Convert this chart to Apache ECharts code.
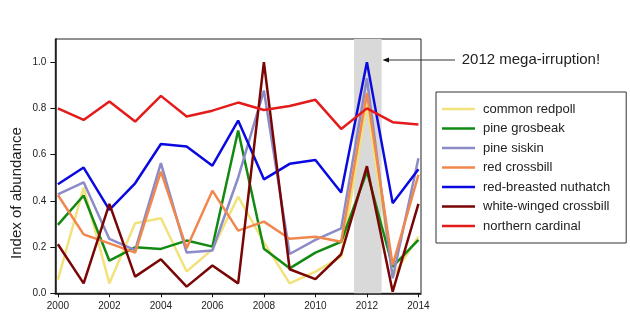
<!DOCTYPE html>
<html>
<head>
<meta charset="utf-8">
<script src="https://cdn.jsdelivr.net/npm/echarts@6/dist/echarts.min.js"></script>
<style>html,body{margin:0;padding:0;background:#fff;}#c{width:630px;height:326px;}</style>
</head>
<body>
<div id="c"></div>
<script>
const years = [2000,2001,2002,2003,2004,2005,2006,2007,2008,2009,2010,2011,2012,2013,2014];
const xTicks = [2000,2002,2004,2006,2008,2010,2012,2014];
const yTicks = [0,0.2,0.4,0.6,0.8,1.0];
const seriesNames = ['common redpoll','pine grosbeak','pine siskin','red crossbill','red-breasted nuthatch','white-winged crossbill','northern cardinal'];
const commonRedpoll = [0.058,0.457,0.043,0.303,0.325,0.094,0.19,0.418,0.22,0.043,0.094,0.158,0.82,0.072,0.245];
const pineGrosbeak  = [0.296,0.423,0.141,0.199,0.192,0.228,0.202,0.704,0.193,0.108,0.176,0.223,0.527,0.115,0.231];
const pineSiskin    = [0.428,0.48,0.235,0.187,0.563,0.176,0.185,0.5,0.877,0.17,0.231,0.281,0.93,0.065,0.584];
const redCrossbill  = [0.425,0.255,0.216,0.176,0.526,0.195,0.444,0.271,0.31,0.236,0.245,0.223,0.866,0.122,0.512];
const nuthatch      = [0.472,0.544,0.361,0.476,0.646,0.635,0.552,0.747,0.493,0.56,0.577,0.436,1.0,0.39,0.537];
const wwCrossbill   = [0.212,0.043,0.387,0.072,0.147,0.029,0.12,0.043,1.0,0.104,0.061,0.169,0.55,0.007,0.387];
const cardinal      = [0.80,0.75,0.83,0.743,0.854,0.765,0.79,0.825,0.793,0.81,0.837,0.711,0.80,0.74,0.73];
const irruptionBand = [2011.5, 2012.57];
const annotation = '2012 mega-irruption!';

const allValues = [commonRedpoll,pineGrosbeak,pineSiskin,redCrossbill,nuthatch,wwCrossbill,cardinal];
const colors = ['#F2E27D','#128A12','#8B8BC8','#F0884E','#0A0AE0','#7A0505','#E31B1B'];

const series = seriesNames.map((name,i)=>{
  const s = {
    name, type:'line', showSymbol:false, symbol:'none',
    data: years.map((y,j)=>[y, allValues[i][j]]),
    lineStyle:{width:2.5, color:colors[i]}, itemStyle:{color:colors[i]},
    z: 3 + i, silent:true, animation:false
  };
  if (i===0) {
    s.markArea = {silent:true, z:1, itemStyle:{color:'#D9D9D9', opacity:1},
      data:[[{xAxis:irruptionBand[0]},{xAxis:irruptionBand[1]}]]};
  }
  return s;
});

const chart = echarts.init(document.getElementById('c'), null, {renderer:'canvas'});
chart.setOption({
  animation:false,
  backgroundColor:'#fff',
  textStyle:{fontFamily:'Liberation Sans'},
  grid:{left:55.3, top:39, right:209, bottom:32.7, show:true, borderColor:'#222', borderWidth:1, backgroundColor:'transparent'},
  xAxis:{type:'value', min:1999.9, max:2014.1,
    axisLine:{show:true, lineStyle:{color:'#111', width:1.5}},
    axisTick:{show:true, length:4, customValues:xTicks, lineStyle:{color:'#111'}},
    axisLabel:{customValues:xTicks, fontSize:10, color:'#222', margin:8, fontFamily:'Liberation Sans',
      formatter:v=>String(Math.round(v))},
    splitLine:{show:false}},
  yAxis:{type:'value', min:0, max:1.1,
    axisLine:{show:true, lineStyle:{color:'#111', width:1.5}},
    axisTick:{show:true, length:5, customValues:yTicks, lineStyle:{color:'#111'}},
    axisLabel:{customValues:yTicks, fontSize:10, color:'#222', margin:9, fontFamily:'Liberation Sans',
      formatter:v=>Number(v).toFixed(1)},
    splitLine:{show:false}},
  legend:{orient:'vertical', left:436, top:92, padding:[10,16,10,6],
    icon:'rect', itemWidth:33, itemHeight:2.5, itemGap:5.5,
    borderColor:'#333', borderWidth:1, backgroundColor:'#fff',
    textStyle:{fontSize:13, lineHeight:14, color:'#222', fontFamily:'Liberation Sans', padding:[0,0,0,3]},
    data:seriesNames},
  graphic:[
    {type:'text', x:17, y:193, rotation:Math.PI/2,
      style:{text:'Index of abundance', fontSize:15, fill:'#222', align:'center', verticalAlign:'middle', fontFamily:'Liberation Sans'}},
    {type:'text', x:461.7, y:60,
      style:{text:annotation, fontSize:15, fill:'#222', align:'left', verticalAlign:'middle', fontFamily:'Liberation Sans'}},
    {type:'line', shape:{x1:455, y1:60, x2:387, y2:60}, style:{stroke:'#333', lineWidth:1}},
    {type:'polygon', shape:{points:[[382.5,60],[389,57.5],[389,62.5]]}, style:{fill:'#111'}}
  ],
  series
});
</script>
</body>
</html>
